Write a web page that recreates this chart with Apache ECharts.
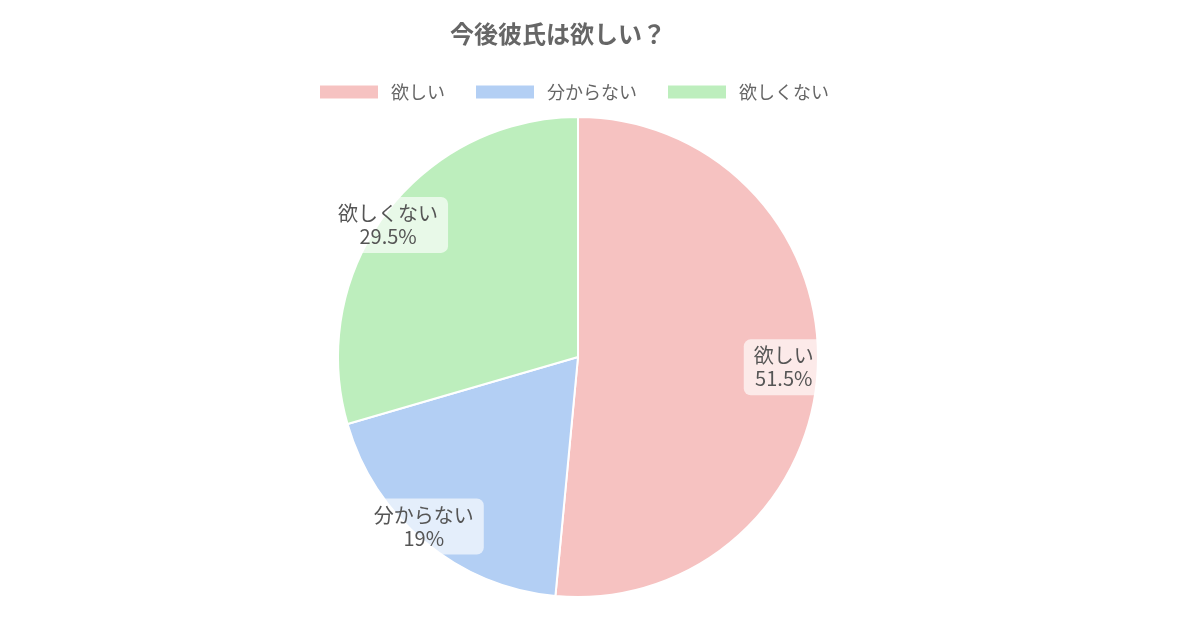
<!DOCTYPE html>
<html>
<head>
<meta charset="utf-8">
<script src="https://cdn.jsdelivr.net/npm/echarts@6/dist/echarts.min.js"></script>
<style>
html,body{margin:0;padding:0;background:#fff;}
#chart{width:1200px;height:634px;}
</style>
</head>
<body>
<div id="chart"></div>
<script>
const titleText = '今後彼氏は欲しい？';
const categories = ['欲しい', '分からない', '欲しくない'];
const values = [51.5, 19, 29.5];
const colors = ['#f6c2c1', '#b3cff4', '#bdeebd'];

const FONT = '"Noto Sans CJK JP", "Noto Sans", sans-serif';
const pieData = categories.map((c, i) => ({ name: c, value: values[i], itemStyle: { color: colors[i] } }));
const labelData = categories.map((c, i) => ({ name: c, value: values[i] }));

const chart = echarts.init(document.getElementById('chart'));
chart.setOption({
  animation: false,
  backgroundColor: '#ffffff',
  title: {
    text: titleText,
    left: 445,
    top: 17,
    textStyle: { fontFamily: FONT, fontSize: 24, fontWeight: 'bold', color: '#666666' }
  },
  legend: {
    data: categories.map((c, i) => ({ name: c, itemStyle: { color: colors[i] } })),
    left: 318,
    top: 83,
    padding: 0,
    itemWidth: 60,
    itemHeight: 15,
    itemGap: 29,
    icon: 'rect',
    textStyle: { fontFamily: FONT, fontSize: 18, color: '#666666', padding: [0, 0, 0, 7] }
  },
  series: [
    {
      type: 'pie',
      center: [578, 357],
      radius: [0, 240],
      startAngle: 90,
      clockwise: true,
      data: pieData,
      itemStyle: { borderColor: '#ffffff', borderWidth: 2 },
      label: { show: false },
      labelLine: { show: false },
      emphasis: { disabled: true }
    },
    {
      type: 'pie',
      center: [578, 357],
      radius: [0, 434],
      startAngle: 90,
      clockwise: true,
      silent: true,
      data: labelData,
      itemStyle: { color: 'rgba(0,0,0,0)', borderWidth: 0 },
      emphasis: { disabled: true },
      labelLine: { show: false },
      labelLayout: { dx: -14 },
      label: {
        show: true,
        position: 'inside',
        formatter: p => p.name + '\n' + p.value + '%',
        fontFamily: FONT,
        fontSize: 20,
        lineHeight: 23,
        color: '#555555',
        align: 'center',
        backgroundColor: 'rgba(255,255,255,0.65)',
        borderRadius: 7,
        padding: [5, 10, 5, 10]
      }
    }
  ]
});
</script>
</body>
</html>
